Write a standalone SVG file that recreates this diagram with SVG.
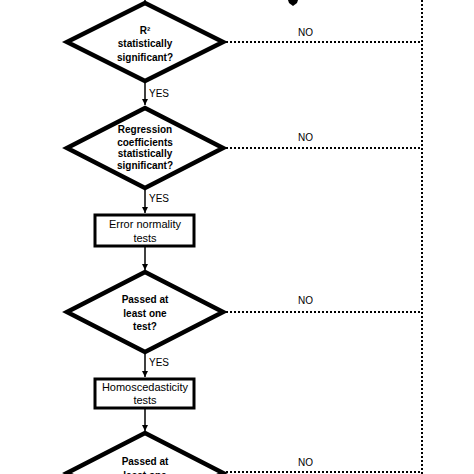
<svg xmlns="http://www.w3.org/2000/svg" width="474" height="474" viewBox="0 0 474 474">
<defs>
<marker id="ah" viewBox="0 0 10 10" refX="10" refY="5" markerWidth="6" markerHeight="6" orient="auto" markerUnits="userSpaceOnUse">
<path d="M0,0 L10,5 L0,10 z" fill="#000"/>
</marker>
<style>
.dia{fill:#fff;stroke:#000;stroke-width:4.5;stroke-linejoin:miter}
.box{fill:#fff;stroke:#000;stroke-width:3}
.dt{font-family:"Liberation Sans",Arial,sans-serif;font-weight:bold;font-size:10px;text-anchor:middle;fill:#000}
.bt{font-family:"Liberation Sans",Arial,sans-serif;font-size:11px;text-anchor:middle;fill:#000}
.lb{font-family:"Liberation Sans",Arial,sans-serif;font-size:10px;fill:#000}
.flow{stroke:#000;stroke-width:1.5;fill:none}
.dot{stroke:#000;stroke-width:2;stroke-dasharray:2 2;fill:none}
</style>
</defs>
<rect width="474" height="474" fill="#fff"/>
<g id="connectors">
<line class="flow" x1="145" y1="0" x2="145" y2="3"/>
<line class="flow" x1="145" y1="82" x2="145" y2="105" marker-end="url(#ah)"/>
<line class="flow" x1="145" y1="189" x2="145" y2="213" marker-end="url(#ah)"/>
<line class="flow" x1="145" y1="246" x2="145" y2="270" marker-end="url(#ah)"/>
<line class="flow" x1="145" y1="353" x2="145" y2="377" marker-end="url(#ah)"/>
<line class="flow" x1="145" y1="409" x2="145" y2="431" marker-end="url(#ah)"/>
<text class="lb" x="149" y="97">YES</text>
<text class="lb" x="149" y="202">YES</text>
<text class="lb" x="149" y="366">YES</text>
<line class="dot" x1="226" y1="42" x2="422" y2="42"/>
<line class="dot" x1="226" y1="148" x2="422" y2="148"/>
<line class="dot" x1="226" y1="312" x2="422" y2="312"/>
<line class="dot" x1="226" y1="472" x2="422" y2="472"/>
<line class="dot" x1="422" y1="0" x2="422" y2="474"/>
<text class="lb" x="298" y="36">NO</text>
<text class="lb" x="298" y="141">NO</text>
<text class="lb" x="298" y="304">NO</text>
<text class="lb" x="298" y="466">NO</text>
<polygon points="288,0 298,0 297,3 293,6 289,3" fill="#000"/>
</g>
<g id="d1">
<polygon class="dia" points="145,3 223,42 145,81 67,42"/>
<text class="dt" x="145" y="34">R²</text>
<text class="dt" x="145" y="47">statistically</text>
<text class="dt" x="145" y="61">significant?</text>
</g>
<g id="d2">
<polygon class="dia" points="145,108 223,148 145,188 67,148"/>
<text class="dt" x="145" y="133">Regression</text>
<text class="dt" x="145" y="146">coefficients</text>
<text class="dt" x="145" y="157">statistically</text>
<text class="dt" x="145" y="169">significant?</text>
</g>
<g id="r1">
<rect class="box" x="95" y="215" width="99" height="31"/>
<text class="bt" x="145" y="228">Error normality</text>
<text class="bt" x="145" y="242">tests</text>
</g>
<g id="d3">
<polygon class="dia" points="145,272 223,312 145,352 67,312"/>
<text class="dt" x="145" y="303">Passed at</text>
<text class="dt" x="145" y="317">least one</text>
<text class="dt" x="145" y="330">test?</text>
</g>
<g id="r2">
<rect class="box" x="95" y="379" width="99" height="29"/>
<text class="bt" x="145" y="391">Homoscedasticity</text>
<text class="bt" x="145" y="404">tests</text>
</g>
<g id="d4">
<polygon class="dia" points="145,433 223,473 145,513 67,473"/>
<text class="dt" x="145" y="465">Passed at</text>
<text class="dt" x="145" y="479">least one</text>
</g>
</svg>
